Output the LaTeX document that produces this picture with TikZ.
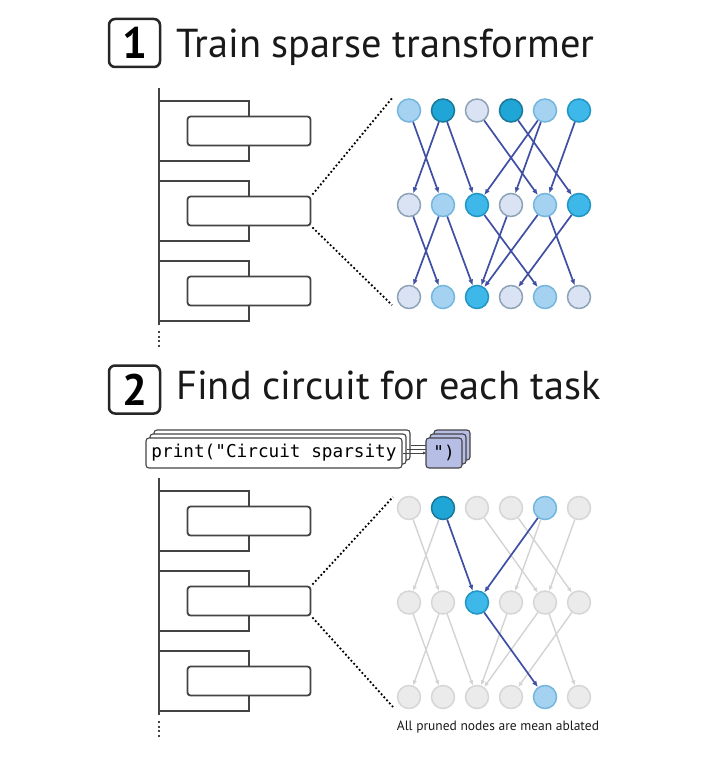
\documentclass[tikz,border=0pt]{standalone}
\usepackage{fontspec}
\setmainfont{PT Sans}
\setmonofont{DejaVu Sans Mono}
\usetikzlibrary{arrows.meta}
\definecolor{edgeblue}{HTML}{3F4FA3}
\definecolor{vlfill}{HTML}{D9E3F3}\definecolor{vldraw}{HTML}{8EA3B8}
\definecolor{lfill}{HTML}{A5D2F0}\definecolor{ldraw}{HTML}{74B6DE}
\definecolor{mfill}{HTML}{3EB7E9}\definecolor{mdraw}{HTML}{2196C5}
\definecolor{dfill}{HTML}{1FA6D6}\definecolor{ddraw}{HTML}{1A7898}
\definecolor{gfill}{HTML}{EBEBEB}\definecolor{gdraw}{HTML}{D6D6D6}
\definecolor{gedge}{HTML}{D3D3D3}
\definecolor{stackgray}{HTML}{444444}
\definecolor{codefill}{HTML}{B7BEE6}
\begin{document}
\begin{tikzpicture}[x=1pt,y=-1pt,
  neuron/.style={circle, minimum size=23pt, inner sep=0pt, line width=1.5pt},
  nvl/.style={neuron, fill=vlfill, draw=vldraw},
  nl/.style={neuron, fill=lfill, draw=ldraw},
  nm/.style={neuron, fill=mfill, draw=mdraw},
  nd/.style={neuron, fill=dfill, draw=ddraw},
  ng/.style={neuron, fill=gfill, draw=gdraw},
  wire/.style={draw=edgeblue, line width=1.7pt, -{Latex[length=6pt,width=5pt]}},
  gwire/.style={draw=gedge, line width=1.4pt, -{Latex[length=5pt,width=4.5pt]}},
  block/.style={draw=stackgray, line width=1.8pt, rounded corners=3pt, minimum width=123pt, minimum height=29pt, inner sep=0pt, fill=white},
  resid/.style={draw=stackgray, line width=2pt},
  resdots/.style={draw=stackgray, line width=2pt, dash pattern=on 2pt off 2.5pt},
  zoomline/.style={draw=black, line width=1.8pt, dash pattern=on 1.8pt off 2.3pt},
  numbox/.style={draw=black!85, line width=2.5pt, rounded corners=6pt, minimum width=51pt, minimum height=48pt, inner sep=0pt, font=\bfseries\fontsize{44}{44}\selectfont},
  titletext/.style={anchor=base west, inner sep=0pt, font=\fontsize{40.4}{40.4}\selectfont, text=black!90},
  codebox/.style={draw=stackgray, line width=1.1pt, rounded corners=3pt, fill=white, minimum width=256pt, minimum height=30pt, inner sep=0pt, font=\ttfamily\fontsize{17.7}{17.7}\selectfont},
  outbox/.style={draw=stackgray, line width=1.1pt, rounded corners=3pt, fill=codefill, minimum width=36pt, minimum height=30pt, inner sep=0pt, font=\ttfamily\fontsize{17.7}{17.7}\selectfont},
  codearrow/.style={draw=stackgray, line width=0.9pt, -{Latex[length=3.5pt,width=3pt]}}
]
\useasboundingbox (0,0) rectangle (715,776);

% ---------- Titles ----------
\node[numbox] (num1) at (134.5,43) {1};
\node[titletext] (title1) at (176,57.7) {Train sparse transformer};
\node[numbox] (num2) at (134.5,389.5) {2};
\node[titletext] (title2) at (176,399) {Find circuit for each task};

% ---------- Residual stacks ----------
\foreach \top/\bot/\tag in {88/325/A, 478/715/B}{
  \draw[resid] (159,\top) -- (159,\bot);
}
\draw[resdots] (159,331) -- (159,347);
\draw[resdots] (159,721) -- (159,737);
\foreach \yy/\nm in {101/A1, 181/A2, 261/A3, 491/B1, 571/B2, 651/B3}{
  \draw[resid] (159,\yy) -- (249,\yy) -- (249,\yy+16);
  \draw[resid] (249,\yy+44) -- (249,\yy+60) -- (159,\yy+60);
  \node[block] (blk\nm) at (249,\yy+30) {};
}

% ---------- Top network ----------
\foreach \n/\x/\s in {1/409/nl, 2/443/nd, 3/477/nvl, 4/511/nd, 5/545/nl, 6/579/nm}
  \node[\s] (t\n) at (\x,110.5) {};
\foreach \n/\x/\s in {1/409/nvl, 2/443/nl, 3/477/nm, 4/511/nvl, 5/545/nl, 6/579/nm}
  \node[\s] (m\n) at (\x,205) {};
\foreach \n/\x/\s in {1/409/nvl, 2/443/nl, 3/477/nm, 4/511/nvl, 5/545/nl, 6/579/nvl}
  \node[\s] (b\n) at (\x,297) {};
\foreach \a/\b in {t1/m2, t2/m1, t2/m3, t3/m5, t4/m6, t5/m3, t5/m4, t6/m5,
                   m1/b2, m2/b1, m2/b3, m3/b5, m4/b3, m5/b3, m5/b6, m6/b4}
  \draw[wire] (\a) -- (\b);

\coordinate (zA1) at (393,97);
\coordinate (zA2) at (392,305);
\draw[zoomline] (blkA2.north east) ++(1,-1) -- (zA1);
\draw[zoomline] (blkA2.south east) ++(1,1) -- (zA2);

% ---------- Prompt ----------
\node[codebox] (code3) at (282,445) {};
\node[codebox] (code2) at (278,449) {};
\node[codebox] (code1) at (274,453) {print("Circuit sparsity};
\draw[codearrow] (code3.east) -- ++(24,0) coordinate (cend3);
\draw[codearrow] (code2.east) -- ++(24,0) coordinate (cend2);
\node[outbox] (out3) at (452,445) {};
\node[outbox] (out2) at (448,449) {};
\draw[codearrow] (code1.east) -- ++(24,0) coordinate (cend1);
\node[outbox] (out1) at (444,453) {")};

% ---------- Bottom network ----------
\foreach \n/\x/\s in {1/409/ng, 2/443/nd, 3/477/ng, 4/511/ng, 5/545/nl, 6/579/ng}
  \node[\s] (u\n) at (\x,508) {};
\foreach \n/\x/\s in {1/409/ng, 2/443/ng, 3/477/nm, 4/511/ng, 5/545/ng, 6/579/ng}
  \node[\s] (v\n) at (\x,602.5) {};
\foreach \n/\x/\s in {1/409/ng, 2/443/ng, 3/477/ng, 4/511/ng, 5/545/nl, 6/579/ng}
  \node[\s] (w\n) at (\x,697) {};
\foreach \a/\b in {u1/v2, u2/v1, u3/v5, u4/v6, u5/v4, u6/v5,
                   v1/w2, v2/w1, v2/w3, v4/w3, v5/w3, v5/w6, v6/w4}
  \draw[gwire] (\a) -- (\b);
\foreach \a/\b in {u2/v3, u5/v3, v3/w5}
  \draw[wire] (\a) -- (\b);

\coordinate (zB1) at (393,497);
\coordinate (zB2) at (393,707);
\draw[zoomline] (blkB2.north east) ++(1,-1) -- (zB1);
\draw[zoomline] (blkB2.south east) ++(1,1) -- (zB2);

\node[anchor=base west, inner sep=0pt, font=\fontsize{13.5}{13.5}\selectfont, text=black!90] (caption) at (396.7,730.7) {All pruned nodes are mean ablated};
\end{tikzpicture}
\end{document}
